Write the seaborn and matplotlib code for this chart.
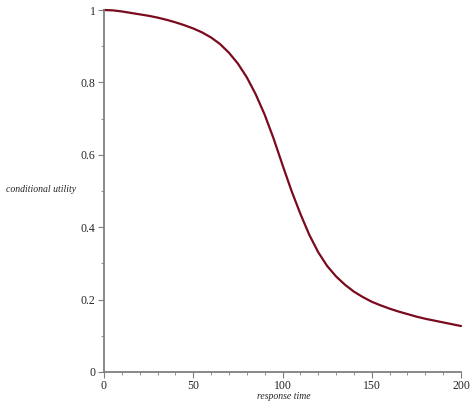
import pandas as pd
import numpy as np
import matplotlib
matplotlib.use("Agg")
import matplotlib.pyplot as plt
from matplotlib.ticker import MultipleLocator
import seaborn as sns

# values
response_time = [0, 5, 10, 15, 20, 25, 30, 35, 40, 45, 50, 55, 60, 65, 70, 75,
                 80, 85, 90, 95, 100, 105, 110, 115, 120, 125, 130, 135, 140,
                 145, 150, 155, 160, 165, 170, 175, 180, 185, 190, 195, 200]
utility = [1.0, 0.999, 0.996, 0.992, 0.988, 0.984, 0.979, 0.973, 0.966, 0.958,
           0.949, 0.938, 0.924, 0.906, 0.882, 0.852, 0.814, 0.767, 0.711,
           0.645, 0.572, 0.501, 0.437, 0.379, 0.331, 0.293, 0.264, 0.241,
           0.222, 0.207, 0.194, 0.184, 0.175, 0.167, 0.160, 0.153, 0.147,
           0.142, 0.137, 0.132, 0.127]

df = pd.DataFrame({"response time": response_time, "conditional utility": utility})

sns.set_style("white")
plt.rcParams["font.family"] = ["Liberation Serif", "DejaVu Serif"]

fig = plt.figure(figsize=(4.74, 4.05), dpi=100)
ax = fig.add_axes([0.2194, 0.0815, 0.7532, 0.8938])

sns.lineplot(data=df, x="response time", y="conditional utility", ax=ax,
             color="#7a0a1e", linewidth=1.6, clip_on=False)

ax.set_xlim(0, 200)
ax.set_ylim(0, 1)
ax.set_xticks([0, 50, 100, 150, 200])
ax.set_yticks([0, 0.2, 0.4, 0.6, 0.8, 1])
ax.set_yticklabels(["0", "0.2", "0.4", "0.6", "0.8", "1"])
ax.xaxis.set_minor_locator(MultipleLocator(10))
ax.yaxis.set_minor_locator(MultipleLocator(0.1))

for side in ["top", "right"]:
    ax.spines[side].set_visible(False)
for side in ["left", "bottom"]:
    ax.spines[side].set_color("#7f7f7f")
    ax.spines[side].set_linewidth(1.3)

ax.tick_params(which="major", direction="out", length=4, width=0.8,
               color="#7f7f7f", labelsize=8.5, pad=2, bottom=True, left=True)
ax.tick_params(which="minor", direction="out", length=2, width=0.6,
               color="#7f7f7f", bottom=True, left=True)

ax.set_xlabel("")
ax.set_ylabel("")
fig.text(0.598, 0.022, "response time", style="italic", fontsize=7,
         ha="center", va="center")
fig.text(0.012, 0.531, "conditional utility", style="italic", fontsize=7,
         ha="left", va="center")

fig.savefig("out.png", dpi=100)
